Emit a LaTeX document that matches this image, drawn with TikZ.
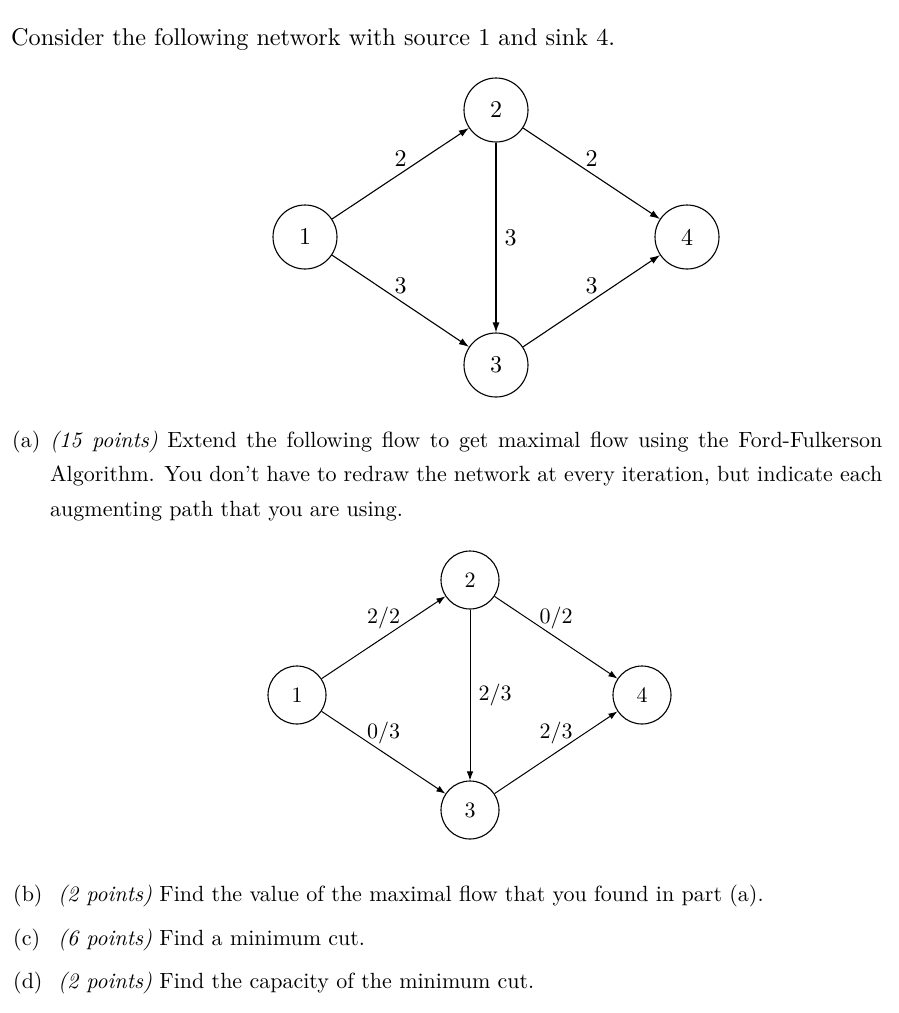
\documentclass[tikz,border=0pt]{standalone}
\usepackage{graphicx}
\usetikzlibrary{arrows.meta}
\newcommand\tx[1]{\scalebox{2.424}{\fontsize{10}{12}\selectfont #1}}
\newcommand\lt[1]{\scalebox{2.2}{\fontsize{10}{12}\selectfont #1}}
\newcommand\jl[1]{\scalebox{2.2}{\fontsize{10}{12}\selectfont\makebox[378.2pt][s]{#1}}}
\newcommand\ga[1]{\scalebox{2.4}{\fontsize{10}{12}\selectfont #1}}
\newcommand\gb[1]{\scalebox{2.2}{\fontsize{10}{12}\selectfont #1}}
\begin{document}
\begin{tikzpicture}[x=1pt,y=-1pt,
  vtx/.style={circle,draw,line width=1.1pt,minimum size=64pt,inner sep=0pt},
  vtxb/.style={vtx,minimum size=58pt},
  arc/.style={line width=1.1pt,-{Latex[length=10pt,width=7pt]}},
  arcb/.style={line width=1pt,-{Latex[length=9pt,width=6.5pt]}},
  txt/.style={anchor=base west,inner sep=0pt}]
\fill[white] (0,0) rectangle (898,1013);
\useasboundingbox (0,0) rectangle (898,1013);

% intro line
\node[txt] (intro) at (11,45) {\tx{Consider the following network with source 1 and sink 4.}};

% graph 1
\node[vtx] (a1) at (305,237) {\ga{1}};
\node[vtx] (a2) at (496,110) {\ga{2}};
\node[vtx] (a3) at (496,365) {\ga{3}};
\node[vtx] (a4) at (687,237) {\ga{4}};
\draw[arc] (a1) -- node[midway,above=6pt,inner sep=0pt] {\ga{2}} (a2);
\draw[arc] (a2) -- node[midway,above=6pt,inner sep=0pt] {\ga{2}} (a4);
\draw[arc] (a2) -- node[midway,right=8pt,inner sep=0pt] {\ga{3}} (a3);
\draw[arc] (a1) -- node[midway,above=6pt,inner sep=0pt] {\ga{3}} (a3);
\draw[arc] (a3) -- node[midway,above=6pt,inner sep=0pt] {\ga{3}} (a4);

% part (a)
\node[txt] (la) at (12,447) {\lt{(a)}};
\node[txt] (pa1) at (50,447) {\jl{\textit{(15 points)} Extend the following flow to get maximal flow using the Ford-Fulkerson}};
\node[txt] (pa2) at (50,481.5) {\jl{Algorithm. You don't have to redraw the network at every iteration, but indicate each}};
\node[txt] (pa3) at (50,516) {\lt{augmenting path that you are using.}};

% graph 2
\node[vtxb] (b1) at (297,695) {\gb{1}};
\node[vtxb] (b2) at (470,580) {\gb{2}};
\node[vtxb] (b3) at (470,810) {\gb{3}};
\node[vtxb] (b4) at (642,695) {\gb{4}};
\draw[arcb] (b1) -- node[midway,above=8pt,inner sep=0pt] {\gb{2/2}} (b2);
\draw[arcb] (b2) -- node[midway,above=8pt,inner sep=0pt] {\gb{0/2}} (b4);
\draw[arcb] (b2) -- node[midway,right=8pt,inner sep=0pt] {\gb{2/3}} (b3);
\draw[arcb] (b1) -- node[midway,above=8pt,inner sep=0pt] {\gb{0/3}} (b3);
\draw[arcb] (b3) -- node[midway,above=8pt,inner sep=0pt] {\gb{2/3}} (b4);

% parts (b)-(d)
\node[txt] (lb) at (13,901) {\lt{(b)}};
\node[txt] (pb) at (58,901) {\lt{\textit{(2 points)} Find the value of the maximal flow that you found in part (a).}};
\node[txt] (lc) at (13,945) {\lt{(c)}};
\node[txt] (pc) at (58,945) {\lt{\textit{(6 points)} Find a minimum cut.}};
\node[txt] (ld) at (13,988) {\lt{(d)}};
\node[txt] (pd) at (58,988) {\lt{\textit{(2 points)} Find the capacity of the minimum cut.}};
\end{tikzpicture}
\end{document}
